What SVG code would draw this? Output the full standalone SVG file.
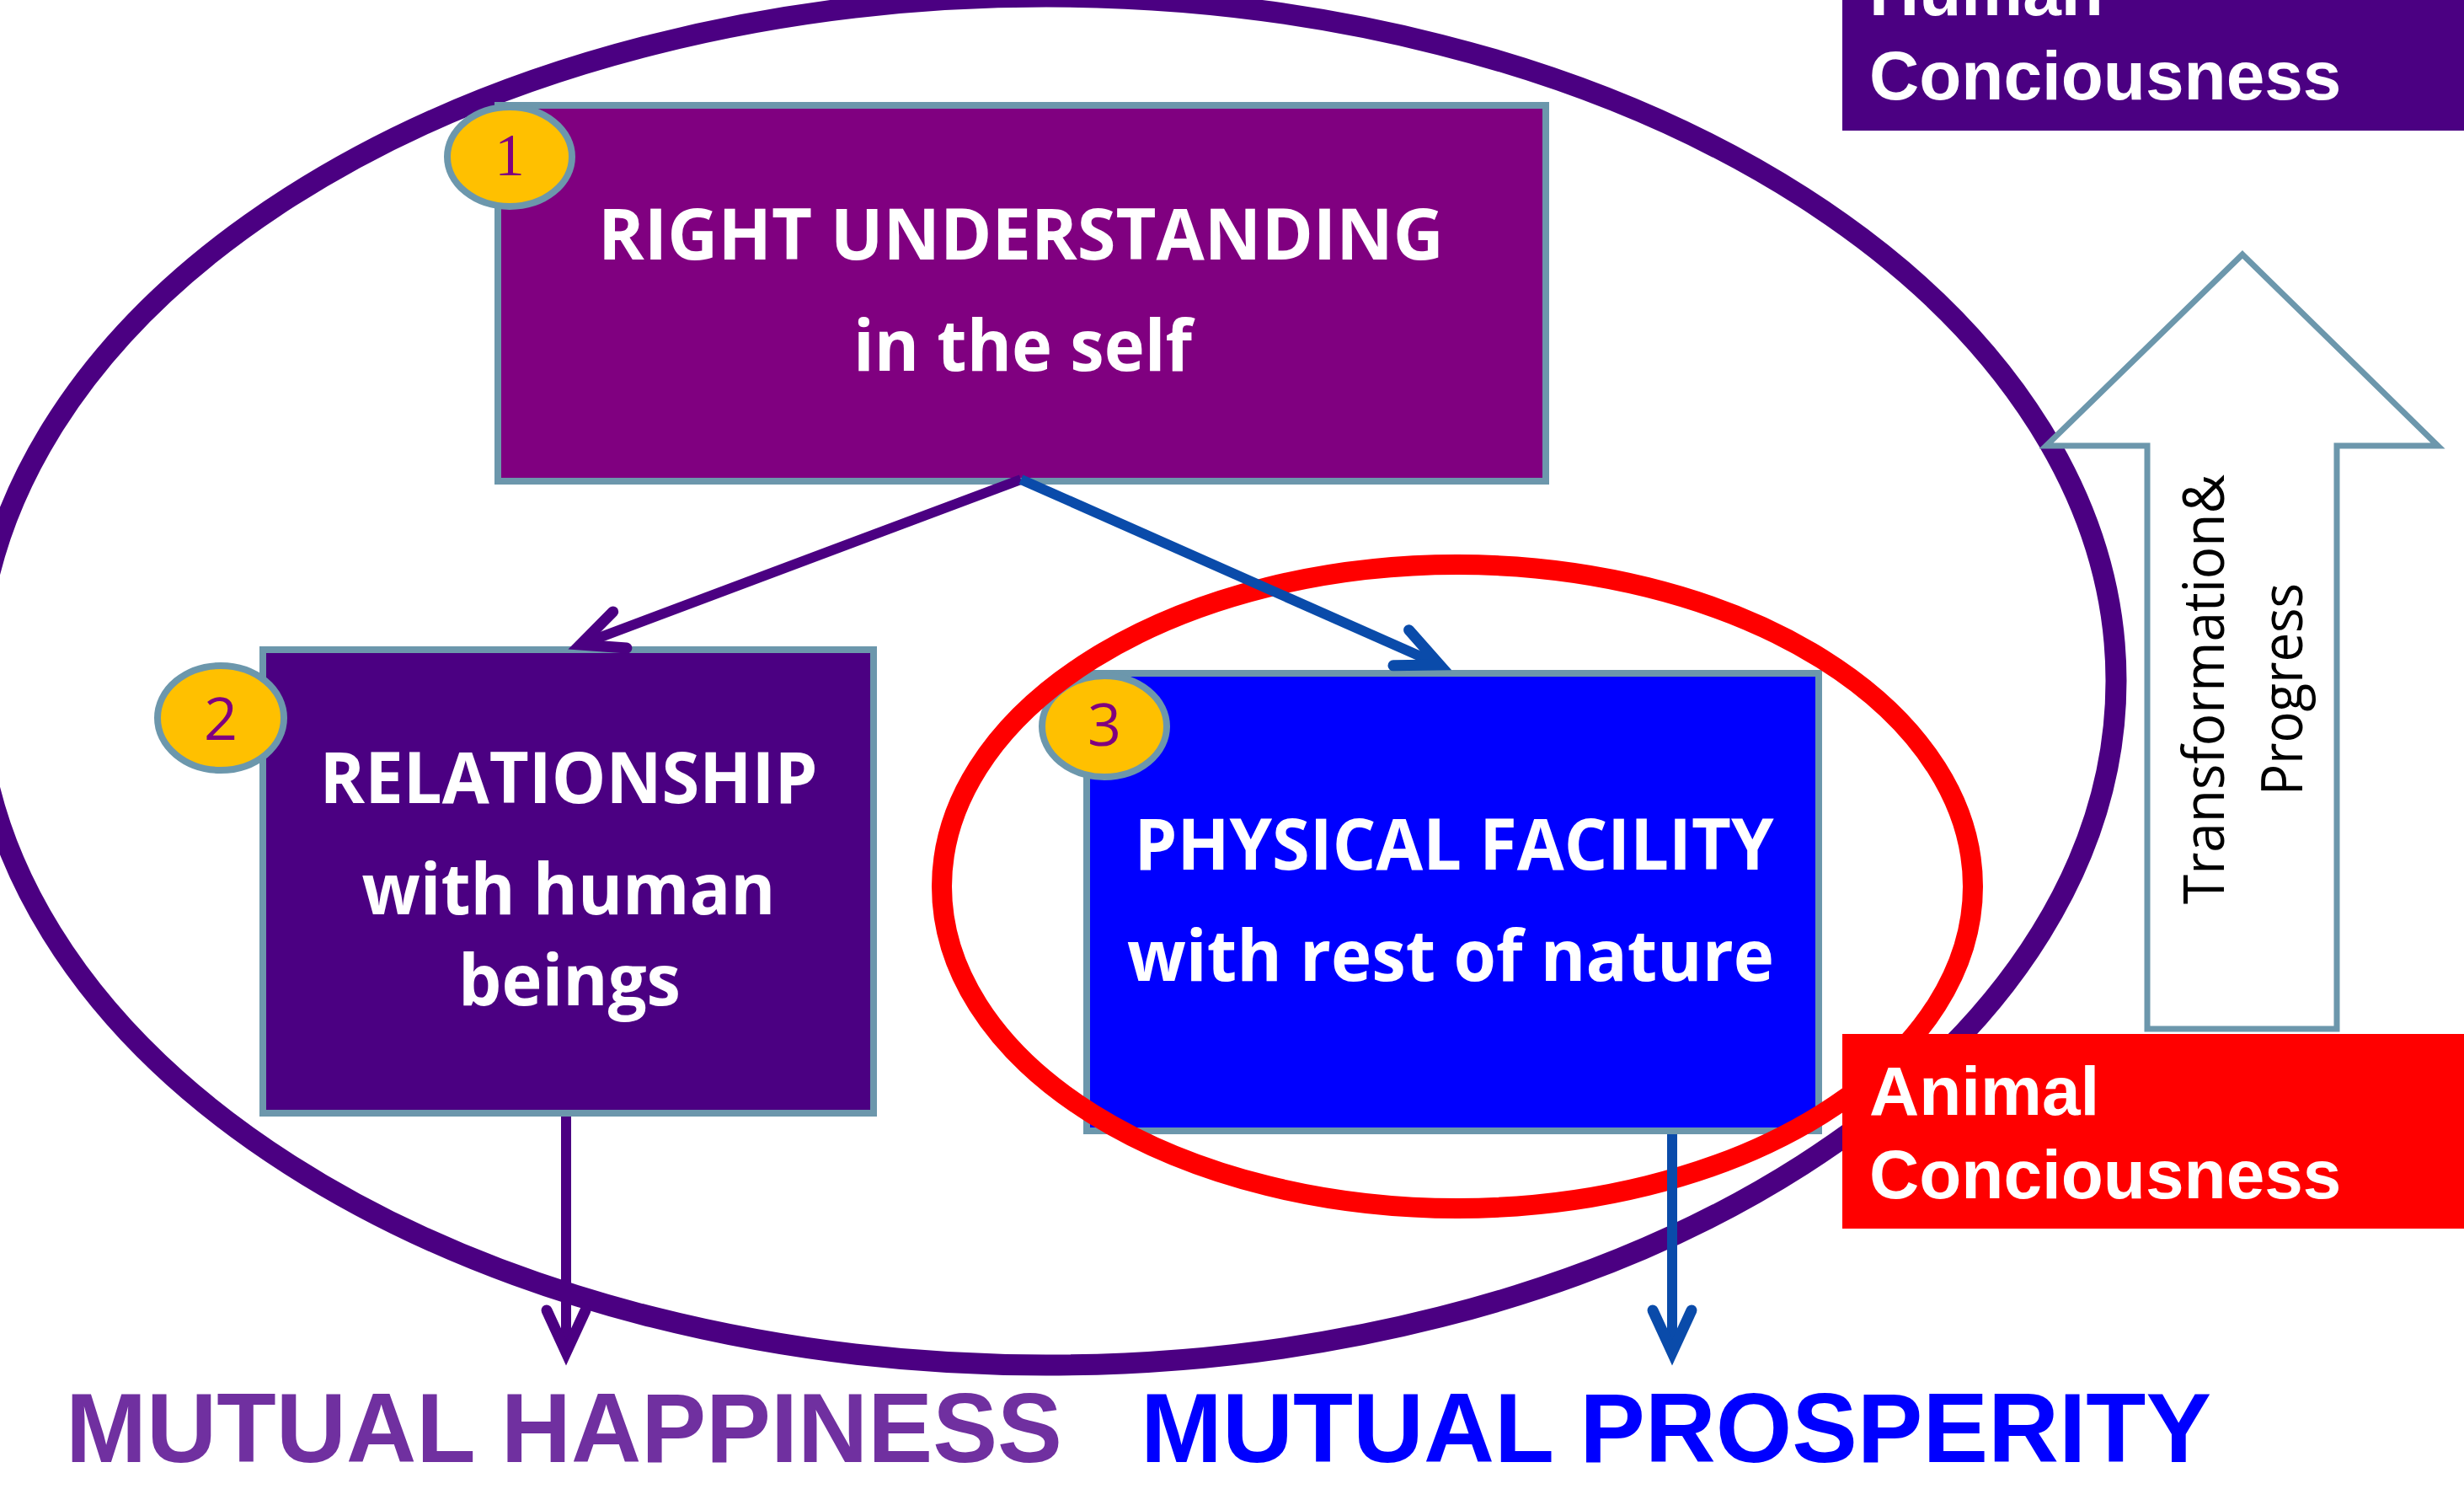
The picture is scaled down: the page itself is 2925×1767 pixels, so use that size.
<svg xmlns="http://www.w3.org/2000/svg" width="2925" height="1767" viewBox="0 0 2925 1767">
  <style>
    .box { stroke: #6C97AC; stroke-width: 8; }
    .badge { fill: #FFC000; stroke: #6C97AC; stroke-width: 8; }
    .num { font-family: "Open Sans", "Liberation Sans", sans-serif; font-size: 70px; fill: #800080; text-anchor: middle; }
    .btext { font-family: "Open Sans", "Lato", sans-serif; font-weight: 700; fill: #FFFFFF; text-anchor: middle; font-size: 85px; }
    .ctext { font-family: "Liberation Sans", Arial, sans-serif; font-weight: 700; fill: #FFFFFF; font-size: 82px; }
    .big { font-family: "Liberation Sans", Arial, sans-serif; font-weight: 700; font-size: 116px; }
    .vtext { font-family: "Open Sans", "Lato", sans-serif; font-size: 67px; fill: #000000; text-anchor: middle; }
    .conn-p { fill: none; stroke: #4B0082; stroke-width: 12; }
    .conn-b { fill: none; stroke: #0A4BAA; stroke-width: 12; }
  </style>
  <defs>
    <marker id="arrP" markerUnits="userSpaceOnUse" markerWidth="160" markerHeight="160" viewBox="-80 -80 160 160" refX="0" refY="0" orient="auto" overflow="visible">
      <path d="M-50,-23 L0,0 L-50,23" fill="none" stroke="#4B0082" stroke-width="13" stroke-linecap="round" stroke-linejoin="miter"/>
    </marker>
    <marker id="arrB" markerUnits="userSpaceOnUse" markerWidth="160" markerHeight="160" viewBox="-80 -80 160 160" refX="0" refY="0" orient="auto" overflow="visible">
      <path d="M-50,-23 L0,0 L-50,23" fill="none" stroke="#0A4BAA" stroke-width="13" stroke-linecap="round" stroke-linejoin="miter"/>
    </marker>
  </defs>

  <rect x="0" y="0" width="2925" height="1767" fill="#FFFFFF"/>

  <!-- big purple ellipse -->
  <g id="human-ellipse">
    <ellipse cx="1242" cy="808" rx="1270" ry="812" fill="none" stroke="#4B0082" stroke-width="25"/>
  </g>

  <!-- node 1 -->
  <g id="node-right-understanding">
    <rect class="box" x="591" y="125" width="1244" height="446" fill="#800080"/>
    <text class="btext" x="1212" y="308" textLength="1004" lengthAdjust="spacingAndGlyphs">RIGHT UNDERSTANDING</text>
    <text class="btext" x="1214" y="440" textLength="402" lengthAdjust="spacingAndGlyphs">in the self</text>
  </g>
  <g id="badge-1">
    <ellipse class="badge" cx="605" cy="186" rx="74" ry="59"/>
    <text x="605" y="208" font-family="Liberation Serif, serif" font-size="71" fill="#800080" text-anchor="middle">1</text>
  </g>

  <!-- node 2 -->
  <g id="node-relationship">
    <rect class="box" x="312" y="771" width="725" height="550" fill="#4B0082"/>
    <text class="btext" x="675" y="953" textLength="591" lengthAdjust="spacingAndGlyphs">RELATIONSHIP</text>
    <text class="btext" x="675" y="1085" textLength="491" lengthAdjust="spacingAndGlyphs">with human</text>
    <text class="btext" x="676" y="1193" textLength="264" lengthAdjust="spacingAndGlyphs">beings</text>
  </g>
  <g id="badge-2">
    <ellipse class="badge" cx="262" cy="852" rx="75" ry="62"/>
    <text class="num" x="262" y="878">2</text>
  </g>

  <!-- node 3 -->
  <g id="node-physical-facility">
    <rect class="box" x="1290" y="799" width="869" height="543" fill="#0000FF"/>
    <text class="btext" x="1726" y="1032" textLength="759" lengthAdjust="spacingAndGlyphs">PHYSICAL FACILITY</text>
    <text class="btext" x="1722" y="1164" textLength="768" lengthAdjust="spacingAndGlyphs">with rest of nature</text>
  </g>
  <g id="badge-3">
    <ellipse class="badge" cx="1311" cy="862" rx="74" ry="60"/>
    <text class="num" x="1311" y="885">3</text>
  </g>

  <!-- red ellipse -->
  <g id="animal-ellipse">
    <ellipse cx="1730" cy="1052" rx="612" ry="382" fill="none" stroke="#FF0000" stroke-width="24"/>
  </g>

  <!-- connectors -->
  <g id="connectors">
    <line class="conn-p" x1="1212" y1="569" x2="689" y2="765" marker-end="url(#arrP)"/>
    <line class="conn-b" x1="1212" y1="569" x2="1709" y2="789" marker-end="url(#arrB)"/>
    <line class="conn-p" x1="672" y1="1325" x2="672" y2="1605" marker-end="url(#arrP)"/>
    <line class="conn-b" x1="1985" y1="1346" x2="1985" y2="1605" marker-end="url(#arrB)"/>
  </g>

  <!-- labels boxes -->
  <g id="human-consciousness">
    <rect x="2187" y="-80" width="760" height="235" fill="#4B0082"/>
    <text class="ctext" x="2219" y="18">Human</text>
    <text class="ctext" x="2219" y="118">Conciousness</text>
  </g>
  <g id="animal-consciousness">
    <rect x="2187" y="1227" width="760" height="231" fill="#FF0000"/>
    <text class="ctext" x="2219" y="1323">Animal</text>
    <text class="ctext" x="2219" y="1422">Conciousness</text>
  </g>

  <!-- transformation arrow -->
  <g id="transformation-arrow">
    <polygon points="2662,302 2894,529 2774,529 2774,1221 2549,1221 2549,529 2429,529" fill="#FFFFFF" stroke="#6C97AC" stroke-width="7" stroke-linejoin="miter"/>
    <text class="vtext" transform="translate(2640,818) rotate(-90)" textLength="510" lengthAdjust="spacingAndGlyphs">Transformation&amp;</text>
    <text class="vtext" transform="translate(2733,818) rotate(-90)" textLength="252" lengthAdjust="spacingAndGlyphs">Progress</text>
  </g>

  <!-- outcomes -->
  <g id="mutual-happiness">
    <text class="big" x="78" y="1735" fill="#7030A0" textLength="1183" lengthAdjust="spacingAndGlyphs">MUTUAL HAPPINESS</text>
  </g>
  <g id="mutual-prosperity">
    <text class="big" x="1354" y="1735" fill="#0000FF" textLength="1271" lengthAdjust="spacingAndGlyphs">MUTUAL PROSPERITY</text>
  </g>
</svg>
